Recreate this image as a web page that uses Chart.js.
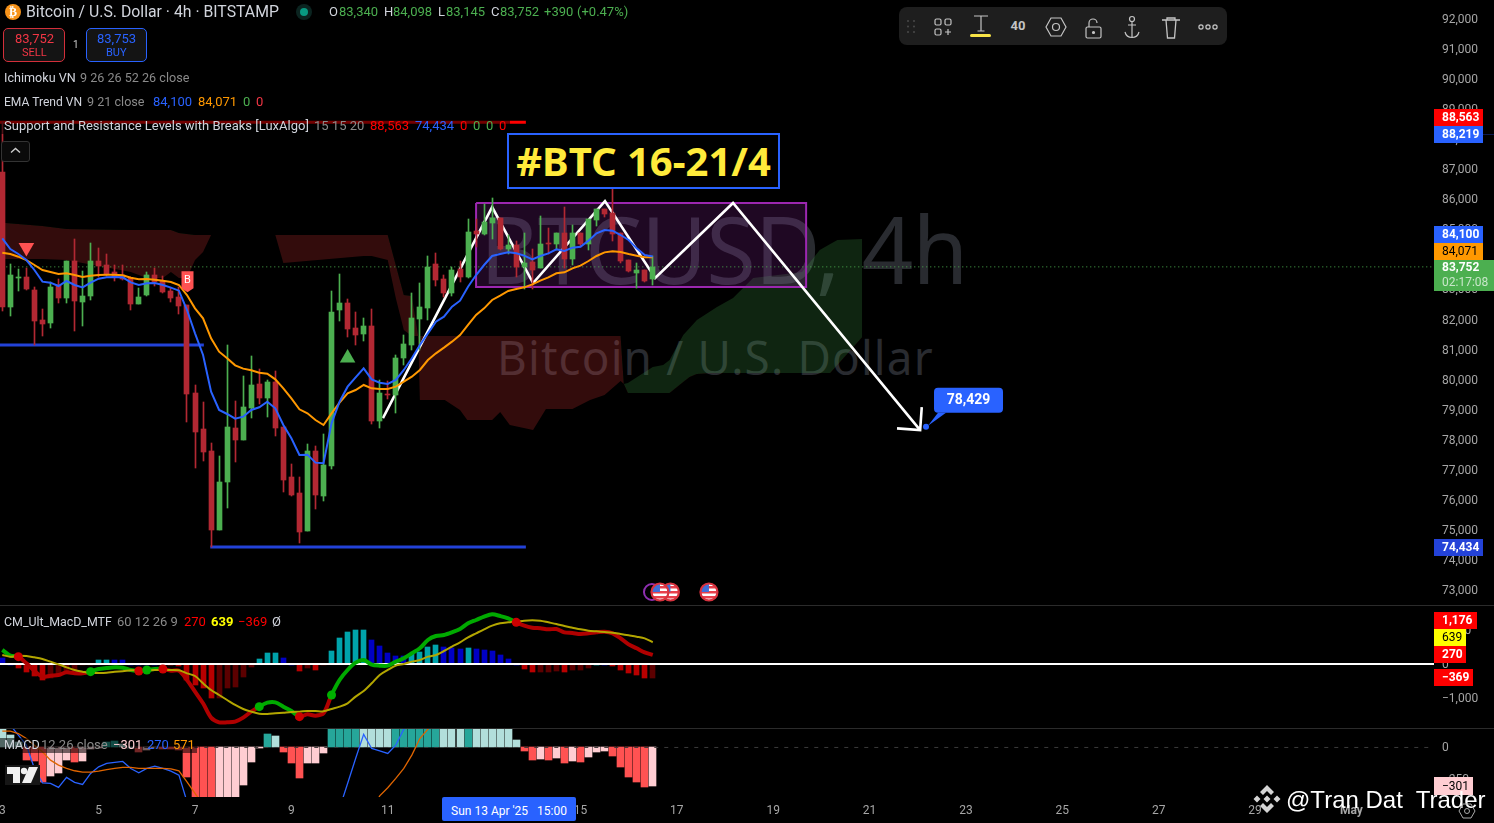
<!DOCTYPE html>
<html>
<head>
<meta charset="utf-8">
<title>BTCUSD 4h</title>
<script src="https://cdn.jsdelivr.net/npm/chart.js@4/dist/chart.umd.js"></script>
<style>
html,body{margin:0;padding:0;background:#000;width:1494px;height:823px;overflow:hidden;font-family:Roboto,sans-serif;}
#wrap{position:relative;width:1494px;height:823px;background:#000;overflow:hidden;}
canvas{position:absolute;left:0;top:0;z-index:2;}
.t{position:absolute;white-space:nowrap;height:20px;line-height:20px;z-index:8;font-size:13px;}
.wm{position:absolute;white-space:nowrap;z-index:1;color:#292b30;font-family:"Noto Sans",sans-serif;transform-origin:left top;}
.dim{position:absolute;z-index:4;background:rgba(0,0,0,.55);}
.sep{position:absolute;left:0;width:1494px;height:1px;background:#2b2b2b;z-index:3;}
svg.ic{position:absolute;z-index:7;overflow:visible;}
</style>
</head>
<body>
<div id="wrap">
<div class="wm" style="left:480px;top:178px;font-size:94px;line-height:140px;letter-spacing:-1px;transform:scaleX(.96)">BTCUSD, 4h</div>
<div class="wm" style="left:497px;top:322px;font-size:48px;line-height:70px;letter-spacing:1.2px;transform:scaleX(.955)">Bitcoin / U.S. Dollar</div>
<canvas id="c" width="1494" height="823"></canvas>
<div class="sep" style="top:605px"></div>
<div class="sep" style="top:728px"></div>
<div class="dim" style="left:0;top:119px;width:510px;height:15px"></div>
<div class="dim" style="left:0;top:738px;width:197px;height:15px"></div>
<div id="texts"></div>

<!-- sell / buy -->
<div style="position:absolute;left:3px;top:28px;width:60px;height:32px;border:1px solid #d32f3a;border-radius:5px;background:#141414;z-index:5"></div>
<div style="position:absolute;left:86px;top:28px;width:59px;height:32px;border:1px solid #2962ff;border-radius:5px;background:#141414;z-index:5"></div>
<div style="position:absolute;left:1px;top:141px;width:27px;height:19px;border:1px solid #333;border-radius:3px;z-index:5;background:#0a0a0a"></div>
<svg class="ic" style="left:10px;top:147px" width="11" height="7"><path d="M1 5.5 L5.5 1.5 L10 5.5" stroke="#ccc" stroke-width="1.4" fill="none"/></svg>

<!-- coin + status -->
<div style="position:absolute;left:5px;top:4px;width:16px;height:16px;border-radius:50%;background:#f7931a;z-index:5;color:#fff;font:bold 12px/16px 'DejaVu Sans';text-align:center">₿</div>
<div style="position:absolute;left:296px;top:4px;width:16px;height:16px;border-radius:50%;background:#0b2420;z-index:5"></div>
<div style="position:absolute;left:300px;top:8px;width:8px;height:8px;border-radius:50%;background:#089981;z-index:6"></div>

<!-- toolbar -->
<div style="position:absolute;left:899px;top:7px;width:328px;height:38px;border-radius:8px;background:#1e1e1e;z-index:5"></div>
<svg class="ic" style="left:899px;top:7px" width="328" height="38" fill="none" stroke="#c4c4c4" stroke-width="1.2">
 <g fill="#4a4a4a" stroke="none"><circle cx="9" cy="14" r="1"/><circle cx="15" cy="14" r="1"/><circle cx="9" cy="19.5" r="1"/><circle cx="15" cy="19.5" r="1"/><circle cx="9" cy="25" r="1"/><circle cx="15" cy="25" r="1"/></g>
 <rect x="36" y="12" width="6" height="6" rx="1.5"/><rect x="46" y="12" width="6" height="6" rx="1.5"/><rect x="36" y="22" width="6" height="6" rx="1.5"/><path d="M49 22v6M46 25h6"/>
 <path d="M75 9h14M82 9v15M78.5 24h7"/><rect x="71" y="27" width="21" height="3" rx="1.5" fill="#f9e547" stroke="none"/>
 <path d="M147 20l5-9h10l5 9-5 9h-10z"/><circle cx="157" cy="20" r="3.5"/>
 <rect x="187" y="20" width="15" height="11" rx="1.5"/><path d="M190 20v-4a4 4 0 0 1 8 0"/><circle cx="194.5" cy="25.5" r="1" fill="#c4c4c4"/>
 <circle cx="233" cy="12" r="2.5"/><path d="M233 14.500v16M229 18h8M226 25c1 4 4 5.500 7 5.500s6-1.500 7-5.500"/>
 <path d="M263 13h18M267 13l1.500 18h7l1.500-18M268 13v-2h8v2" stroke-width="1.300"/>
 <circle cx="302" cy="20" r="2.100"/><circle cx="309" cy="20" r="2.100"/><circle cx="316" cy="20" r="2.100"/>
</svg>
<div style="position:absolute;left:1008px;top:16px;width:20px;height:20px;z-index:8;color:#c4c4c4;font:bold 13px/20px Roboto,sans-serif;text-align:center">40</div>

<!-- title box -->
<div style="position:absolute;left:507px;top:133px;width:269px;height:52px;border:2px solid #2962ff;background:#000;z-index:5;text-align:center;color:#ffeb3b;font:bold 40px/52px 'Noto Sans',sans-serif;white-space:nowrap">#BTC 16-21/4</div>

<!-- TradingView mark -->
<svg class="ic" style="left:5px;top:765px" width="36" height="20"><rect x="0" y="0" width="35" height="20" fill="#161616"/><path d="M2 2h13v16H8V9H2z" fill="#f0f0f0"/><circle cx="19" cy="6" r="3.200" fill="#f0f0f0"/><path d="M24 2h9l-7 16h-9z" fill="#f0f0f0"/></svg>

<!-- credit -->
<svg class="ic" style="left:1253px;top:785px" width="30" height="30" fill="#d4d4d4"><path d="M14 0l7 7-3 3-4-4-4 4-3-3zM14 28l7-7-3-3-4 4-4-4-3 3zM14 10.500l3.500 3.500-3.500 3.500-3.500-3.500zM4 10.500l3.500 3.500-3.500 3.500-3.500-3.500zM24 10.500l3.500 3.500-3.500 3.500-3.500-3.500z"/></svg>
<div style="position:absolute;left:1286px;top:784px;font:24px/32px 'Liberation Sans',sans-serif;color:#fff;white-space:pre;z-index:7">@Tran Dat  Trader</div>
<svg class="ic" style="left:1459px;top:803px" width="16" height="16" fill="none" stroke="#aaa" stroke-width="1"><path d="M3 1h8l4 7-4 7H3l-4-7z" transform="translate(1,0)"/><circle cx="8" cy="8" r="2.500"/></svg>

<!-- crosshair time -->
<div style="position:absolute;left:442px;top:797px;width:134px;height:24px;background:#2962ff;color:#fff;font:12px/29px Roboto,sans-serif;text-align:center;white-space:pre;z-index:6;border-radius:2px">Sun 13 Apr '25   15:00</div>
</div>

<script>
/* ---------- price candles (USD), one per 4h bar ---------- */
const candleOpen = [86900,82428,83400,83415,82982,81984,81884,83149,82716,83947,82583,82783,83947,83814,83581,83481,83382,82517,82816,83481,83282,82949,82750,82483,79555,78358,77626,74997,76595,78391,77992,79056,79855,79389,79922,78424,76761,76229,74964,77626,76129,77127,82317,82550,81718,81507,81784,78624,79522,79489,80720,81152,82018,82383,83847,83348,82883,83681,83415,84945,84845,85211,85378,84346,84480,83748,83914,83714,84546,84513,84879,84014,84879,84513,85312,85677,85544,84879,83980,83559,83648,83340];
const candleHigh = [88563,83847,83692,83714,83071,82339,83237,83348,83947,84679,83614,84535,84369,84180,83814,83814,83426,83049,83581,83703,83448,83049,83093,82483,79822,79256,77892,77460,81152,79289,80121,80786,80354,79988,80287,78424,77193,76761,77859,77792,78191,82949,83515,82683,82250,82051,82350,79988,79955,80820,81485,82883,83215,84114,84213,83481,83748,83947,85345,85345,85844,86043,85378,84812,84613,84879,84346,85444,85045,84879,85744,85145,84879,85345,85677,85677,86376,84879,83980,83881,83648,84098];
const candleLow = [82295,82117,82960,82982,81152,81452,81718,82550,82550,81618,81784,82650,83415,83448,83282,83315,82317,82517,82783,83115,82894,82583,82184,78590,77060,77293,74434,74997,75729,77260,77992,78724,79190,78757,78125,76262,76129,74565,74964,75696,75962,77027,81951,81430,81152,81286,78524,78391,79356,78890,80487,80986,80986,81984,83115,82750,82783,83249,83382,84424,84812,84679,84313,84180,83415,83016,83016,83714,84180,84313,83714,83814,84413,84313,85112,85400,84613,83870,83581,83060,83249,83145];
const candleClose = [82428,83481,83415,83016,81962,81851,83082,82716,83947,82616,82783,83947,83781,83515,83415,83348,82517,82750,83481,83249,82916,82716,82450,79522,78258,77593,74997,76595,78424,77992,79090,79822,79389,79922,78391,76661,76162,74931,77626,76162,77160,82250,82550,81685,81485,81784,78624,79555,79500,80720,81186,82051,82417,83748,83315,82883,83648,83415,84912,84845,85245,85378,84346,84480,83748,83881,83648,84513,84502,84879,84014,84879,84513,85345,85677,85511,84845,83947,83614,83648,83282,83752];

/* ---------- EMA 9 / 21 ---------- */
const emaFast = [84700,84346,84180,83980,83648,83260,83226,83115,83282,83149,83071,83226,83360,83404,83415,83404,83237,83149,83204,83215,83149,83060,82960,82317,81541,80820,79600,78990,78857,78702,78768,78990,79079,79267,79045,78491,78047,77493,77504,77238,77216,78546,79267,79766,80077,80376,80010,79899,79855,79988,80321,80709,81152,81541,81929,82095,82428,82627,83093,83481,83814,84114,84180,84235,84202,84125,84003,84114,84202,84335,84280,84391,84424,84624,84868,84979,84956,84812,84646,84369,84147,84100];
const emaSlow = [84224,84180,84091,83980,83814,83648,83581,83515,83537,83481,83415,83459,83481,83492,83492,83470,83393,83337,83348,83326,83293,83249,83149,82816,82372,82040,81374,80931,80709,80476,80365,80310,80232,80199,80010,79711,79378,79012,78879,78657,78491,78879,79234,79544,79655,79822,79711,79689,79689,79766,79933,80099,80321,80653,80875,81064,81263,81485,81818,82151,82372,82650,82794,82949,83016,83071,83171,83293,83404,83537,83570,83703,83792,83947,84114,84235,84269,84247,84180,84125,84069,84071];

/* ---------- Ichimoku cloud ---------- */
const cloudBars = [-1,5,8,16,18,20,21,22,23,24,25,26,34,35,45,46,47,48,49,50,51,51.8,52,55.1,57,57.9,61,62,63.2,66.1,67.7,71,73.2,75,77,77.4,77.9,81,82.3,83.1,84.8,85.6,86.5,89,91,93.5,99.6,101.8,103.1,104,107.1];
const senkouA = [84013,84013,83980,83580,83380,83380,83580,83380,83380,83980,84246,84812,84812,83880,84113,84113,84046,83980,82715,81650,81450,81450,79320,79320,78988,78655,78655,78921,78488,78322,79021,79021,79320,79487,79953,79853,79886,80419,80485,80652,81484,81716,81983,82415,82715,83380,83580,84312,84512,84645,84678];
const senkouB = [85244,85111,85011,84978,84978,84978,84978,84878,84845,84812,84812,84812,84812,84812,84812,84812,84812,84812,83813,82815,82782,81450,81450,81450,81450,81450,81450,81450,81450,81450,81450,81450,81450,81450,81450,79853,79553,79553,79553,79553,79920,80086,80186,80219,80219,80219,80219,80219,80219,80485,81417];

/* ---------- support / resistance and drawings ---------- */
const resistanceLevel = 88563;
const supportLevel = 74434;
const earlierSupportLevel = 81150;
const lastPrice = 83752;
const pathBars = [47.4,61,66.1,75.05,81.3,91,114.3];
const pathPrices = [78721,85743,83214,85943,83380,85877,78322];
const arrowBars = [111.42,114.3,114.5];
const arrowPrices = [78379,78322,79087];
const rangeBars = [59,100.1];
const rangePrices = [85877,83081];
const targetBar = 115.03;
const targetPrice = 78429;
const sellSignalBars = [3];
const sellSignalPrices = [84396];
const buySignalBars = [43];
const buySignalPrices = [80718];
const breakLabelBar = 23;
const breakLabelPrice = 83270;
const newsFlagBars = [83.2,81.9,88];

/* ---------- CM Ult MacD MTF ---------- */
const mtfHist = [166,0,-127,-225,-353,-470,-411,-353,-270,-196,-30,-10,118,125,108,105,0,0,0,0,-20,-40,-70,-470,-610,-715,-1010,-1005,-715,-666,-372,-78,147,313,320,166,0,-196,-127,-176,-30,382,764,931,1000,1005,705,529,313,235,235,294,343,510,558,510,480,441,480,441,412,382,265,147,0,-147,-245,-245,-225,-196,-225,-176,-176,-118,0,0,-49,-176,-255,-323,-402,-402];
const mtfLine = [412,245,216,20,-206,-372,-343,-323,-245,-274,-274,-225,-147,-118,-98,-108,-176,-206,-176,-147,-147,-196,-196,-470,-813,-1156,-1578,-1715,-1715,-1695,-1578,-1401,-1254,-1137,-1127,-1254,-1382,-1548,-1480,-1519,-1450,-911,-470,-176,39,118,-20,-49,-49,69,167,314,461,706,823,853,931,1029,1196,1294,1392,1460,1411,1343,1225,1127,1068,1049,1019,1029,931,911,882,902,931,951,902,755,578,461,343,270];
const mtfSignal = [265,216,245,235,196,147,69,-10,-98,-176,-225,-265,-265,-255,-225,-216,-186,-186,-186,-176,-176,-176,-186,-274,-353,-568,-764,-911,-1058,-1205,-1323,-1401,-1460,-1470,-1450,-1431,-1411,-1401,-1382,-1382,-1392,-1323,-1254,-1156,-960,-794,-568,-323,-176,-49,0,69,118,216,265,382,510,637,784,902,1019,1127,1196,1225,1245,1274,1284,1274,1225,1176,1117,1068,1019,980,960,941,921,882,843,804,755,639];
const mtfCrossUp = [11,18,32,41];
const mtfCrossDown = [2,17,20,37,64];

/* ---------- MACD 12 26 close ---------- */
const macdHist = [146,100,40,-99,-105,-268,-224,-200,-99,-115,-107,-10,-5,44,48,30,5,-34,-20,-8,-10,-13,-20,-229,-400,-450,-500,-480,-420,-390,-294,-115,-8,104,88,-36,-122,-240,-122,-122,-44,170,200,230,260,250,240,220,200,210,225,240,260,275,290,280,270,250,260,240,220,200,180,160,57,-29,-99,-91,-99,-83,-122,-107,-115,-76,-36,-29,-68,-154,-232,-271,-310,-301];
const macdLine = [253,174,96,18,-164,-276,-281,-312,-234,-273,-289,-203,-151,-125,-117,-109,-164,-198,-164,-146,-164,-185,-216,-424,-640,-820,-950,-1000,-1000,-980,-900,-850,-800,-780,-800,-820,-830,-880,-900,-920,-900,-800,-476,-281,-86,102,-8,-26,-47,18,143,190];
const macdSignal = [128,128,109,70,18,-34,-99,-138,-164,-182,-193,-193,-185,-174,-164,-156,-156,-164,-164,-164,-164,-167,-182,-268,-359,-450,-560,-640,-720,-770,-800,-820,-820,-820,-810,-800,-800,-790,-780,-780,-760,-720,-680,-640,-580,-540,-500,-378,-315,-242,-164,-60,70,143,190];

/* ---------- axis ticks ---------- */
const priceTicks = [73000,74000,75000,76000,77000,78000,79000,80000,81000,82000,83000,84000,85000,86000,87000,88000,89000,90000,91000,92000];
const mtfTicks = [1000,0,-1000];
const macdTicks = [0,-250];
const timeTickBars = [0,12,24,36,48,72,84,96,108,120,132,144,156,168];
const timeTickLabels = ['3','5','7','9','11','15','17','19','21','23','25','27','29','May'];

/* ---------- right-hand value tags ---------- */
const tagResistance='88,563', tagMid='88,219', tagEmaFast='84,100', tagEmaSlow='84,071', tagLast='83,752', tagCountdown='02:17:08', tagSupport='74,434';
const tagMtfHigh='1,176', tagMtfSignal='639', tagMtfLine='270', tagMtfHist='−369', tagMacdHist='−301';

/* ---------- legend text (x, centre y, text, colour, weight, size) ---------- */
const G='#4caf50', GR='#8a8a8a', W='#d1d4dc', R='#f23645', B='#2962ff', O='#ff9800';
const legendText = [
 [26,12,'Bitcoin / U.S. Dollar · 4h · BITSTAMP',W,400,15.8],
 [329,12,'O',W,400,13],[339,12,'83,340',G,400,13],[384,12,'H',W,400,13],[393,12,'84,098',G,400,13],[438,12,'L',W,400,13],[446,12,'83,145',G,400,13],[491,12,'C',W,400,13],[500,12,'83,752',G,400,13],[544,12,'+390',G,400,13],[577,12,'(+0.47%)',G,400,13],
 [15,39,'83,752',R,400,13],[22,53,'SELL',R,400,11],[97,39,'83,753',B,400,13],[106,53,'BUY',B,400,11],[73,45,'1','#c8c8c8',400,10],
 [4,78,'Ichimoku VN',W,400,12.6],[80,78,'9 26 26 52 26 close',GR,400,12.6],
 [4,102,'EMA Trend VN',W,400,12.1],[87,102,'9 21 close',GR,400,12.6],[153,102,'84,100',B,400,13],[198,102,'84,071',O,400,13],[243,102,'0',G,400,13],[256,102,'0',R,400,13],
 [4,126,'Support and Resistance Levels with Breaks [LuxAlgo]',W,400,13],[314,126,'15 15 20',GR,400,13],[370,126,'88,563','#ff0000',400,13],[415,126,'74,434',B,400,13],[460,126,'0','#ff0000',400,13],[473,126,'0',G,400,13],[486,126,'0',G,400,13],[499,126,'0','#ff0000',400,13],
 [4,622,'CM_Ult_MacD_MTF',W,400,12.4],[117,622,'60 12 26 9',GR,400,13],[184,622,'270','#ff0000',400,13],[211,622,'639','#ffff00',700,13],[238,622,'−369','#ff0000',400,13],[272,622,'Ø',W,400,13],
 [4,745,'MACD',W,400,12.6],[41,745,'12 26 close',GR,400,13],[113,745,'−301','#ffcdd2',400,13],[147,745,'270',B,400,13],[173,745,'571',O,400,13]
];
const textHost=document.getElementById('texts');
legendText.forEach(r=>{const d=document.createElement('div');d.className='t';d.style.left=r[0]+'px';d.style.top=(r[1]-10)+'px';d.style.color=r[3];d.style.fontWeight=r[4];d.style.fontSize=r[5]+'px';d.textContent=r[2];textHost.appendChild(d);});

/* ---------- helpers ---------- */
const bars = candleOpen.map((_,i)=>i);
const pts = (xs,ys)=>ys.map((y,i)=>({x:xs[i],y}));
const CANDLE_UP='#4caf50', CANDLE_DN='#b22833';
const candleColor = bars.map(i=>candleClose[i]>=candleOpen[i]?CANDLE_UP:CANDLE_DN);
const fmt = v=>(v<0?'−':'')+Math.abs(v).toLocaleString('en-US');
const mtfHistColor = mtfHist.map((v,i)=>{const p=i?mtfHist[i-1]:0; return v>=0?(v>p&&i>0?'#00a3ab':'#0000c4'):(v<p?'#b80000':'#5c0000');});
const macdHistColor = macdHist.map((v,i)=>{const p=i?macdHist[i-1]:Infinity; return v>=0?(v>p?'#26a69a':'#b2dfdb'):(v<p?'#ff5252':'#ffcdd2');});
const mtfSegColor = i=>{let c='#00aa00',b=-1;mtfCrossUp.forEach(k=>{if(k<=i&&k>b){b=k;c='#00aa00';}});mtfCrossDown.forEach(k=>{if(k<=i&&k>b){b=k;c='#b00000';}});return c;};
const flat=(x0,x1,v)=>[{x:x0,y:v},{x:x1,y:v}];
const line=(o)=>Object.assign({type:'line',pointRadius:0,borderWidth:2,fill:false,tension:0},o);
const noPad=a=>{a.paddingLeft=a.paddingRight=a.paddingTop=a.paddingBottom=0;};

/* ---------- plugin: pixel snapping, tags, flags, target label ---------- */
const paintPlugin={
 id:'paint',
 afterDatasetsUpdate(chart){
  chart.data.datasets.forEach((ds,di)=>{
   if(ds.type!=='bar')return;
   chart.getDatasetMeta(di).data.forEach(el=>{
    el.x=Math.round(el.x-0.5)+0.5;
    el.y=Math.round(el.y); el.base=Math.round(el.base);
    if(el.y===el.base) el.base=el.y+1;
   });
  });
 },
 afterDatasetsDraw(chart){
  const {ctx,scales}=chart; const x=scales.x,y=scales.y;
  /* flags */
  const flag=(cx,cy,ring)=>{
   ctx.save();ctx.beginPath();ctx.arc(cx,cy,8,0,Math.PI*2);ctx.fillStyle='#fff';ctx.fill();ctx.clip();
   ctx.fillStyle='#e8404c';for(let k=-6;k<9;k+=5)ctx.fillRect(cx-9,cy+k,18,2.500);
   ctx.fillStyle='#3f6fd8';ctx.fillRect(cx-9,cy-9,9,9);ctx.restore();
   ctx.beginPath();ctx.arc(cx,cy,8.500,0,Math.PI*2);ctx.strokeStyle=ring;ctx.lineWidth=2.200;ctx.stroke();
  };
  const fy=592;
  ctx.beginPath();ctx.arc(x.getPixelForValue(newsFlagBars[1])-8,fy,8,0,Math.PI*2);ctx.strokeStyle='#8e2fb0';ctx.lineWidth=2;ctx.stroke();
  newsFlagBars.forEach(b=>flag(x.getPixelForValue(b),fy,'#d7323e'));
  /* break label */
  const bx=Math.round(x.getPixelForValue(breakLabelBar))+0.500, by=y.getPixelForValue(breakLabelPrice);
  ctx.fillStyle='#ff5252';ctx.beginPath();ctx.moveTo(bx-6,by-10);ctx.lineTo(bx+6,by-10);ctx.lineTo(bx+6,by+7);ctx.lineTo(bx,by+11);ctx.lineTo(bx-6,by+7);ctx.closePath();ctx.fill();
  ctx.fillStyle='#fff';ctx.font='11px Roboto';ctx.textAlign='center';ctx.textBaseline='middle';ctx.fillText('B',bx,by-1);
  /* target label */
  const tx=x.getPixelForValue(targetBar), ty=y.getPixelForValue(targetPrice);
  ctx.fillStyle='#2962ff';ctx.beginPath();ctx.moveTo(tx+2,ty-1);ctx.lineTo(tx+12,ty-14);ctx.lineTo(tx+20,ty-14);ctx.closePath();ctx.fill();
  ctx.beginPath();ctx.roundRect(tx+8,ty-39,69,25,4);ctx.fill();
  ctx.fillStyle='#fff';ctx.font='bold 14px Roboto';ctx.textAlign='center';ctx.textBaseline='middle';ctx.fillText(targetPrice.toLocaleString('en-US'),tx+42.500,ty-26);
 },
 afterDraw(chart){
  const {ctx}=chart;
  const tag=(txt,top,w,h,bg,fg,weight)=>{ctx.fillStyle=bg;ctx.fillRect(1434,top,w,h);ctx.fillStyle=fg;ctx.font=(weight||'bold')+' 12px Roboto';ctx.textAlign='left';ctx.textBaseline='middle';ctx.fillText(txt,1442,top+h/2+0.500);};
  tag(tagResistance,109,49,17,'#ff0000','#fff');
  tag(tagMid,126,49,17,'#2962ff','#fff');
  ctx.fillStyle='#0c1b52';ctx.fillRect(1483,134,11,1);
  tag(tagEmaFast,226,49,17,'#2962ff','#fff');
  tag(tagEmaSlow,243,49,17,'#ff9800','#000','normal');
  ctx.fillStyle='#4caf50';ctx.fillRect(1434,260,60,31);
  ctx.fillStyle='#fff';ctx.font='bold 12px Roboto';ctx.textAlign='left';ctx.textBaseline='middle';ctx.fillText(tagLast,1442,268);
  ctx.fillStyle='#c8e6c9';ctx.font='12px Roboto';ctx.fillText(tagCountdown,1442,282.500);
  tag(tagSupport,539,49,17,'#2342d8','#fff');
  tag(tagMtfHigh,612,43,17,'#ff0000','#fff');
  tag(tagMtfSignal,629,32,17,'#ffff00','#000','normal');
  tag(tagMtfLine,646,32,17,'#ff0000','#fff');
  tag(tagMtfHist,669,39,17,'#ff0000','#fff');
  tag(tagMacdHist,777,39,18,'#ffcdd2','#000','normal');
 }
};

/* ---------- chart ---------- */
const datasets=[
 line({label:'Senkou A',data:pts(cloudBars,senkouA),borderWidth:0,fill:{target:'+1',above:'rgba(70,175,80,.21)',below:'rgba(255,60,60,.2)'},order:100}),
 line({label:'Senkou B',data:pts(cloudBars,senkouB),borderWidth:0,order:100}),
 line({label:'Range',data:[{x:rangeBars[0],y:rangePrices[0]},{x:rangeBars[1],y:rangePrices[0]},{x:rangeBars[1],y:rangePrices[1]},{x:rangeBars[0],y:rangePrices[1]},{x:rangeBars[0],y:rangePrices[0]}],borderColor:'#9c27b0',backgroundColor:'rgba(156,39,176,.2)',fill:'shape',order:99}),
 line({label:'Resistance',data:flat(-1,65.2,resistanceLevel),borderColor:'#ff0000',borderWidth:3,order:90}),
 line({label:'Support old',data:flat(-1,25.1,earlierSupportLevel),borderColor:'#2342d8',borderWidth:3,order:90}),
 line({label:'Support',data:flat(25.9,65.2,supportLevel),borderColor:'#2342d8',borderWidth:3,order:90}),
 line({label:'Last',data:flat(-1,179,lastPrice),borderColor:'#4caf50',borderWidth:1,borderDash:[1,3],order:88}),
 line({label:'Path',data:pts(pathBars,pathPrices),borderColor:'#ffffff',borderWidth:2.6,order:85}),
 {type:'bar',label:'Wicks',data:bars.map(i=>({x:i,y:[candleLow[i],candleHigh[i]]})),backgroundColor:candleColor,barThickness:1,grouped:false,order:80},
 {type:'bar',label:'Bodies',data:bars.map(i=>({x:i,y:[candleOpen[i],candleClose[i]]})),backgroundColor:candleColor,barThickness:5,grouped:false,order:79},
 line({label:'EMA slow',data:pts(bars,emaSlow),borderColor:'#ff9800',order:70}),
 line({label:'EMA fast',data:pts(bars,emaFast),borderColor:'#2962ff',order:69}),
 line({label:'Arrow',data:pts(arrowBars,arrowPrices),borderColor:'#ffffff',borderWidth:2.6,order:60}),
 line({label:'Target',data:[{x:targetBar,y:targetPrice}],pointRadius:2,backgroundColor:'#2962ff',borderColor:'#2962ff',order:59}),
 line({label:'Sell',data:pts(sellSignalBars,sellSignalPrices),pointStyle:'triangle',pointRotation:180,pointRadius:9,borderWidth:0,backgroundColor:'#ff5252',showLine:false,order:58}),
 line({label:'Buy',data:pts(buySignalBars,buySignalPrices),pointStyle:'triangle',pointRadius:9,borderWidth:0,backgroundColor:'#4caf50',showLine:false,order:58}),

 {type:'bar',label:'MTF hist',yAxisID:'yMtf',data:bars.map(i=>({x:i,y:mtfHist[i]})),backgroundColor:mtfHistColor,barThickness:5,grouped:false,order:50},
 line({label:'MTF zero',yAxisID:'yMtf',data:flat(-1,179,0),borderColor:'#ffffff',borderWidth:2,order:49}),
 line({label:'MTF line',yAxisID:'yMtf',data:pts(bars,mtfLine),borderWidth:4,tension:.3,borderColor:'#00aa00',segment:{borderColor:c=>mtfSegColor(c.p0DataIndex)},order:47}),
 line({label:'MTF signal',yAxisID:'yMtf',data:pts(bars,mtfSignal),borderWidth:2,tension:.3,borderColor:'#b3a600',order:46}),
 line({label:'MTF up',yAxisID:'yMtf',data:mtfCrossUp.map(i=>({x:i,y:mtfLine[i]})),showLine:false,pointRadius:4.5,borderWidth:0,backgroundColor:'#00b000',order:45}),
 line({label:'MTF down',yAxisID:'yMtf',data:mtfCrossDown.map(i=>({x:i,y:mtfLine[i]})),showLine:false,pointRadius:4.5,borderWidth:0,backgroundColor:'#cc0000',order:45}),

 {type:'bar',label:'MACD hist',yAxisID:'yMacd',data:bars.map(i=>({x:i,y:macdHist[i]})),backgroundColor:macdHistColor,barThickness:7,grouped:false,order:40},
 line({label:'MACD zero',yAxisID:'yMacd',data:flat(-1,179,0),borderColor:'#3a3a3a',borderWidth:1,borderDash:[4,6],order:39}),
 line({label:'MACD',yAxisID:'yMacd',data:pts(bars,macdLine),borderColor:'#2962ff',borderWidth:1.3,order:38}),
 line({label:'Signal',yAxisID:'yMacd',data:pts(bars,macdSignal),borderColor:'#e06500',borderWidth:1.3,order:37})
];
const yAxis=(weight,stackWeight,min,max,list)=>({type:'linear',position:'right',stack:'panes',stackWeight,weight,min,max,
  grid:{display:false,drawTicks:false},border:{display:false},
  afterBuildTicks:a=>{a.ticks=list.map(value=>({value}));},
  afterFit:a=>{a.width=60;noPad(a);},
  ticks:{color:'#a6a6a6',font:{family:'Roboto',size:12},padding:8,labelOffset:1,callback:fmt,autoSkip:false,maxRotation:0,align:'center'}});
new Chart(document.getElementById('c'),{
 type:'bar',
 data:{datasets},
 plugins:[paintPlugin],
 options:{
  responsive:false,animation:false,devicePixelRatio:1,events:[],
  layout:{padding:0,autoPadding:false},
  plugins:{legend:{display:false},tooltip:{enabled:false},title:{display:false}},
  scales:{
   x:{type:'linear',offset:false,min:-0.286,max:178.29,position:'bottom',
      grid:{display:false,drawTicks:false},border:{display:false},
      afterBuildTicks:a=>{a.ticks=timeTickBars.map(value=>({value}));},
      afterFit:a=>{a.height=26;noPad(a);},
      ticks:{color:'#a6a6a6',padding:7,autoSkip:false,maxRotation:0,minRotation:0,
        font:c=>({family:'Roboto',size:12,weight:(c.tick&&c.tick.value===168)?'bold':'normal'}),
        callback:v=>timeTickLabels[timeTickBars.indexOf(v)]}},
   y:yAxis(0,605,72501,92632,priceTicks),
   yMtf:yAxis(1,123,-1882,1735,mtfTicks),
   yMacd:yAxis(2,69,-387,152,macdTicks)
  }
 }
});
</script>
</body>
</html>
